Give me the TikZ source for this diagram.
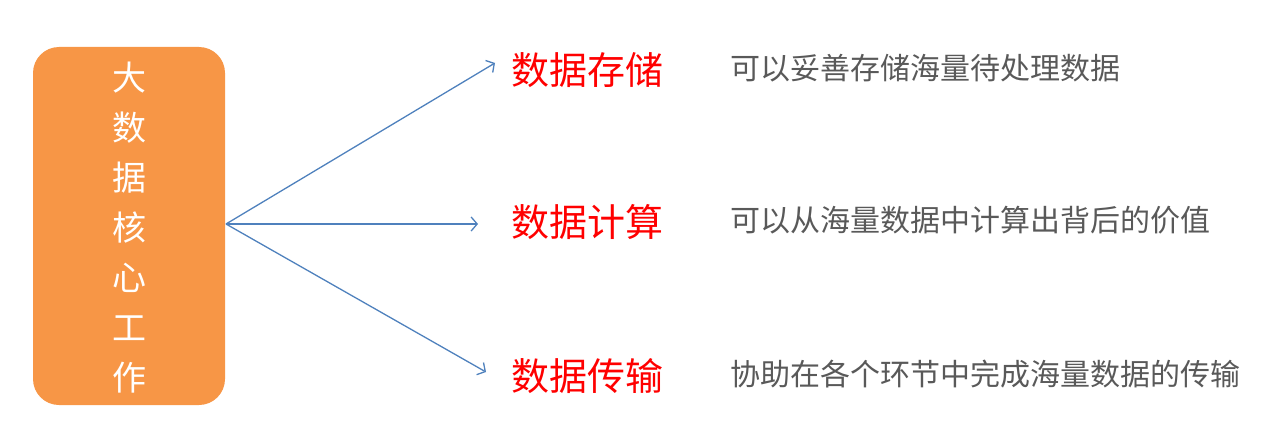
\documentclass[tikz,border=0pt]{standalone}
\usepackage{fontspec}
\setmainfont{Noto Sans CJK SC}
\usetikzlibrary{arrows.meta}
\definecolor{boxor}{HTML}{F79646}
\definecolor{arr}{HTML}{4F81BD}
\definecolor{gr}{HTML}{595959}
\begin{document}
\begin{tikzpicture}[x=1pt,y=-1pt,
  lab/.style={text=red,font=\fontsize{38}{40}\selectfont,anchor=west,inner sep=0},
  desc/.style={text=gr,font=\fontsize{30}{32}\selectfont,anchor=west,inner sep=0},
  con/.style={draw=arr,line width=1.3,-{Straight Barb[length=6,width=14]}}]
\useasboundingbox (0,0) rectangle (1286,428);
\node[fill=boxor,rounded corners=26,minimum width=192,minimum height=358,inner sep=0] (core) at (129,226) {};
\node[text=white,font=\fontsize{34}{50}\selectfont,align=center,inner sep=0] (t) at (129,228) {大\\数\\据\\核\\心\\工\\作};
\coordinate (src) at (226,224);
\node[lab] (a) at (511,70) {数据存储};
\node[lab] (b) at (511,222) {数据计算};
\node[lab] (c) at (511,376) {数据传输};
\coordinate (ea) at (495,63);
\coordinate (eb) at (478,224);
\coordinate (ec) at (486,372);
\draw[con] (src) -- (ea);
\draw[con] (src) -- (eb);
\draw[con] (src) -- (ec);
\node[desc] (da) at (730,68) {可以妥善存储海量待处理数据};
\node[desc] (db) at (730,220) {可以从海量数据中计算出背后的价值};
\node[desc] (dc) at (730,374) {协助在各个环节中完成海量数据的传输};
\end{tikzpicture}
\end{document}
